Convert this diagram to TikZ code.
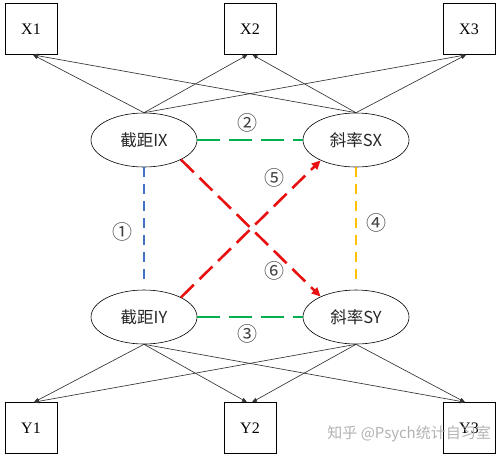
\documentclass[tikz,border=0pt]{standalone}
\usepackage{fontspec}
\setmainfont{Liberation Serif}
\newfontfamily\cjk{Noto Sans CJK SC}
\usetikzlibrary{arrows.meta,shapes.geometric}
\definecolor{cgreen}{HTML}{00B050}
\definecolor{cblue}{HTML}{4472C4}
\definecolor{cyellow}{HTML}{FFC000}
\definecolor{cred}{HTML}{E81010}
\begin{document}
\begin{tikzpicture}[x=1pt,y=-1pt,
  obs/.style={draw, line width=0.7pt, minimum width=52pt, minimum height=51pt, inner sep=0pt, font=\fontsize{16}{16}\selectfont},
  lat/.style={draw, ellipse, line width=0.6pt, minimum width=106pt, minimum height=54pt, inner sep=0pt, font=\cjk\fontsize{16.5}{16.5}\selectfont, text=black!85},
  load/.style={draw=black!80, line width=0.65pt, -{Triangle[length=5pt,width=4pt]}},
  covg/.style={draw=cgreen, line width=2.6pt, dash pattern=on 23pt off 9pt},
  covb/.style={draw=cblue, line width=2.2pt, dash pattern=on 10pt off 7pt},
  covy/.style={draw=cyellow, line width=2.2pt, dash pattern=on 10pt off 7pt},
  covr/.style={draw=cred, line width=2.6pt, dash pattern=on 18pt off 8pt, -{Triangle[length=9pt,width=8pt]}},
  num/.style={font=\cjk\fontsize{20}{20}\selectfont, text=black!75, inner sep=0pt}
]
\useasboundingbox (0,0) rectangle (502,459);
% observed
\node[obs] (X1) at (31,29) {X1};
\node[obs] (X2) at (250,29) {X2};
\node[obs] (X3) at (469,29) {X3};
\node[obs] (Y1) at (31,428) {Y1};
\node[obs] (Y2) at (250,428) {Y2};
\node[obs] (Y3) at (469,428) {Y3};
% latent
\node[lat] (IX) at (144,140) {截距IX};
\node[lat] (SX) at (356,140) {斜率SX};
\node[lat] (IY) at (144,317) {截距IY};
\node[lat] (SY) at (356,317) {斜率SY};
% loadings
\draw[load] (IX.north) -- ([xshift=2pt]X1.south);
\draw[load] (IX.north) -- ([xshift=-2.5pt]X2.south);
\draw[load] (IX.north) -- ([xshift=-3pt]X3.south);
\draw[load] (SX.north) -- ([xshift=2pt]X1.south);
\draw[load] (SX.north) -- ([xshift=2.5pt]X2.south);
\draw[load] (SX.north) -- ([xshift=-3pt]X3.south);
\draw[load] (IY.south) -- ([xshift=3pt]Y1.north);
\draw[load] (IY.south) -- ([xshift=-3pt]Y2.north);
\draw[load] (IY.south) -- ([xshift=-4pt]Y3.north);
\draw[load] (SY.south) -- ([xshift=3pt]Y1.north);
\draw[load] (SY.south) -- ([xshift=2pt]Y2.north);
\draw[load] (SY.south) -- ([xshift=-4pt]Y3.north);
% covariances
\draw[covg] (IX.east) -- (SX.west);
\draw[covg] (IY.east) -- (SY.west);
\draw[covb, shorten >=9pt] (IX.south) -- (IY.north);
\draw[covy, shorten >=9pt] (SX.south) -- (SY.north);
\draw[covr] (IX.-28) -- (SY.150);
\draw[covr] (IY.28) -- (SX.210);
% labels
\node[num] (n1) at (122,232) {①};
\node[num] (n2) at (247,123) {②};
\node[num] (n3) at (247,334) {③};
\node[num] (n4) at (376,223) {④};
\node[num] (n5) at (274,178) {⑤};
\node[num] (n6) at (274,271) {⑥};
% watermark
\node[font=\cjk\fontsize{15}{15}\selectfont, text=black!30, inner sep=0pt, anchor=east] (wm) at (491,434) {知乎 @Psych统计自习室};
\end{tikzpicture}
\end{document}
